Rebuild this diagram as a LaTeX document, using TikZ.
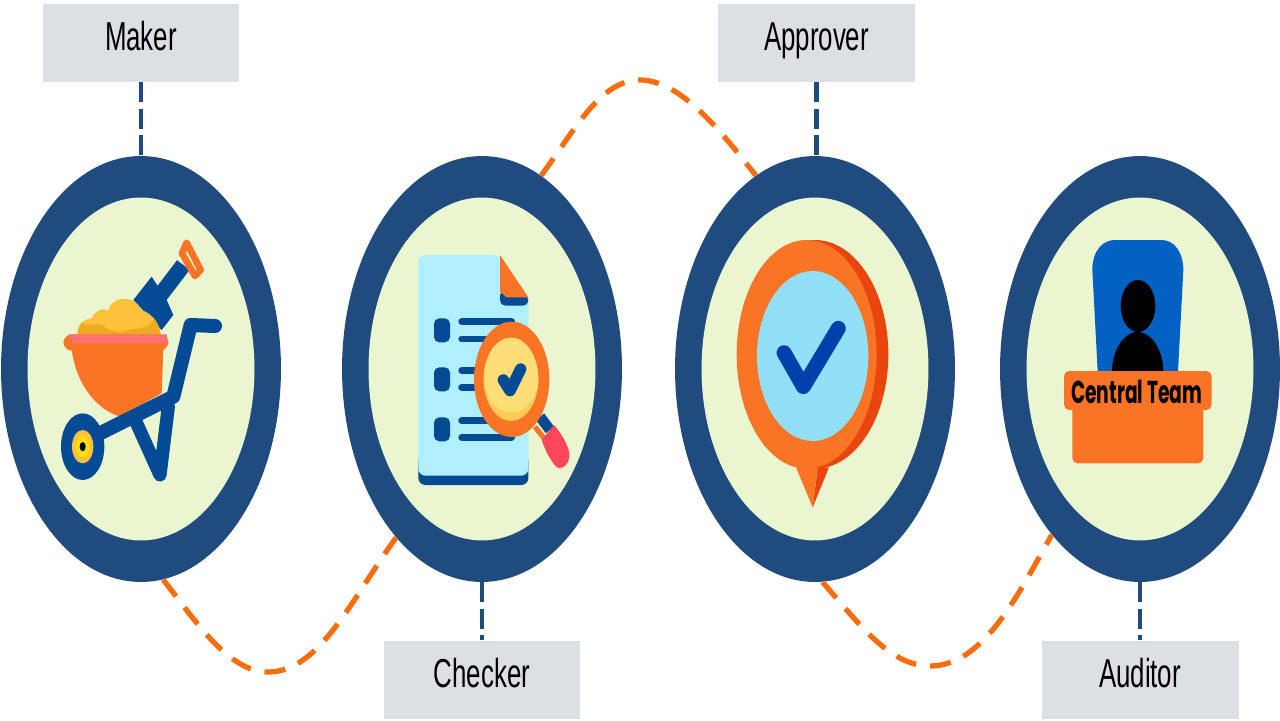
\documentclass[tikz,border=0pt]{standalone}
\usepackage{fontspec}
\setmainfont{Liberation Sans}
\newfontfamily\deskfont{Poppins}
\usetikzlibrary{shapes,positioning}

\definecolor{ringblue}{HTML}{1F4B7E}
\definecolor{discgreen}{HTML}{E9F6CF}
\definecolor{boxgrey}{HTML}{DCDFE3}
\definecolor{linkorange}{HTML}{FB6D0C}
\definecolor{iconorange}{HTML}{FA7426}
\definecolor{iconred}{HTML}{E8450F}
\definecolor{iconblue}{HTML}{044A94}
\definecolor{sand}{HTML}{FDC23C}
\definecolor{sanddark}{HTML}{EFAB1F}
\definecolor{rimpink}{HTML}{FF7272}
\definecolor{paper}{HTML}{AFEFFF}
\definecolor{lens}{HTML}{FFDE78}
\definecolor{lensdark}{HTML}{FBCB55}
\definecolor{gripred}{HTML}{FF4757}
\definecolor{pinblue}{HTML}{92E0F8}
\definecolor{tickblue}{HTML}{0040AA}
\definecolor{chairblue}{HTML}{0361C4}

\tikzset{
    ringnode/.style={shape=ellipse, fill=ringblue, inner sep=0pt, minimum width=5.6cm, minimum height=8.52cm},
    discnode/.style={shape=ellipse, fill=discgreen, inner sep=0pt, minimum width=4.54cm, minimum height=6.86cm},
    rolebox/.style={fill=boxgrey, inner sep=0pt, minimum width=3.94cm, minimum height=1.56cm, font=\fontsize{23}{23}\selectfont},
    roleline/.style={ringblue, line width=2.7pt, dash pattern=on 11.3pt off 3.8pt},
    linkline/.style={linkorange, line width=3pt, dash pattern=on 12pt off 8pt}
}
\newcommand{\rolename}[1]{\raisebox{-4.5pt}[0pt][0pt]{\scalebox{0.64}[1]{#1}}}

\begin{document}
\begin{tikzpicture}[x=0.02cm, y=-0.02cm]
    \useasboundingbox (0,0) rectangle (1280,720);

    % Rings
    \foreach \name/\x in {maker/141, checker/482, approver/815, auditor/1140} {
        \node[ringnode] (\name) at (\x,369) {};
        \node[discnode] (\name disc) at (\x,369) {};
    }

    % Role boxes
    \node[rolebox] (makerbox) at (141,43) {\rolename{Maker}};
    \node[rolebox] (checkerbox) at (482,679.5) {\rolename{Checker}};
    \node[rolebox] (approverbox) at (816.5,43) {\rolename{Approver}};
    \node[rolebox] (auditorbox) at (1140,679.5) {\rolename{Auditor}};

    % Box connections
    \draw[roleline] (makerbox.south) -- (maker.north);
    \draw[roleline] (approverbox.south) -- (approverbox.south |- approver.north);
    \draw[roleline] (checker.south) -- (checkerbox.north);
    \draw[roleline] (auditor.south) -- (auditorbox.north);

    % Links between rings
    \draw[linkline] (maker.-84.6) .. controls (195,620) and (228,672) .. (268,672)
        .. controls (320,672) and (352,598) .. (checker.-117.2);
    \draw[linkline] (checker.73) .. controls (575,130) and (600,80) .. (640,80)
        .. controls (680,80) and (720,130) .. (approver.107.5);
    \draw[linkline] (approver.-88) .. controls (860,625) and (890,666) .. (930,666)
        .. controls (985,666) and (1020,590) .. (auditor.-118);

    % Wheelbarrow
    \begin{scope}[shift={(30,220)}, scale=1/3]
        \fill[iconblue] (365,170) -- (388,205) -- (410,240) -- (430,285) -- (395,330) -- (310,240) -- cycle;
        \draw[iconblue, line width=9pt] (460,135) -- (380,240);
        \draw[iconorange, line width=3.8pt, line join=round] (470,68) -- (512,150) -- (495,168) -- (456,100) -- cycle;
        \fill[sand] (142,345) .. controls (145,310) and (165,295) .. (185,295)
            .. controls (195,270) and (225,262) .. (235,272)
            .. controls (240,235) and (305,215) .. (335,270)
            .. controls (365,280) and (390,310) .. (392,345) -- cycle;
        \fill[sanddark] (142,345) .. controls (143,330) and (146,318) .. (155,308)
            .. controls (180,325) and (195,305) .. (215,315)
            .. controls (240,330) and (265,345) .. (300,328)
            .. controls (340,325) and (360,320) .. (372,298)
            .. controls (385,312) and (391,328) .. (392,345) -- cycle;
        \fill[iconorange] (125,385) .. controls (135,480) and (190,565) .. (270,590) -- (395,520) -- (400,385) -- cycle;
        \fill[iconorange, rounded corners=5pt] (100,343) rectangle (415,392);
        \fill[rimpink] (115,343) -- (410,343) -- (415,370) -- (130,370) -- cycle;
        \draw[iconblue, line width=8pt, line cap=round, line join=round] (190,650) -- (430,530) -- (482,315) -- (555,318);
        \draw[iconblue, line width=7.5pt, line cap=round, line join=round] (320,610) -- (390,765) -- (415,560);
        \fill[iconblue] (158,680) ellipse [x radius=65, y radius=100];
        \fill[sand] (158,680) ellipse [x radius=32, y radius=50];
        \fill[yellow!85!orange] (158,680) ellipse [x radius=20, y radius=32];
        \fill[black] (158,680) ellipse [x radius=9, y radius=14];
    \end{scope}

    % Document with magnifier
    \begin{scope}[shift={(400,240)}, scale=1/3]
        \fill[iconblue, rounded corners=4pt] (55,640) rectangle (385,735);
        \fill[paper, rounded corners=4pt] (55,45) -- (300,45) -- (385,172) -- (385,707) -- (55,707) -- cycle;
        \fill[iconblue, rounded corners=3pt] (300,150) -- (300,197) -- (385,197) -- (385,165) -- cycle;
        \fill[iconorange] (300,45) -- (385,172) -- (320,172) -- (300,155) -- cycle;
        \foreach \y in {235,382,532} {
            \fill[iconblue, rounded corners=3pt] (102,\y) rectangle (150,\y+72);
        }
        \foreach \y/\xa/\xb in {245/185/335, 297/185/335, 392/185/260, 442/185/260, 542/185/335, 592/185/335} {
            \draw[iconblue, line width=3.8pt, line cap=round] (\xa,\y) -- (\xb,\y);
        }
        \draw[iconblue, line width=6pt] (420,530) -- (450,570);
        \draw[iconorange, line width=3pt] (405,560) -- (440,605);
        \fill[gripred] (425,600) -- (462,555) .. controls (480,575) and (505,615) .. (508,640)
            .. controls (510,670) and (490,690) .. (470,682) .. controls (450,660) and (435,630) .. (425,600) -- cycle;
        \fill[iconorange] (335,418) ellipse [x radius=113, y radius=173];
        \fill[lensdark] (333,418) ellipse [x radius=82, y radius=125];
        \begin{scope}
            \clip (333,418) ellipse [x radius=82, y radius=125];
            \fill[lens] (333,392) ellipse [x radius=88, y radius=125];
        \end{scope}
        \draw[iconblue, line width=6.5pt, line cap=round, line join=round] (310,420) -- (330,452) -- (362,387);
    \end{scope}

    % Pin with tick
    \begin{scope}[shift={(720,230)}, scale=1/3]
        \fill[iconred] (293,712) -- (278,832) -- (327,712) -- cycle;
        \fill[iconred] (285,373) ellipse [x radius=220, y radius=343];
        \fill[iconorange] (228,712) -- (278,832) -- (293,712) -- cycle;
        \fill[iconorange] (260,373) ellipse [x radius=210, y radius=343];
        \fill[pinblue] (278,378) ellipse [x radius=167, y radius=255];
        \draw[tickblue, line width=8.5pt, line cap=round, line join=round] (192,368) -- (250,470) -- (355,295);
    \end{scope}

    % Central team desk
    \begin{scope}[shift={(1050,230)}, scale=1/3]
        \fill[chairblue] (127,120) .. controls (127,60) and (160,30) .. (195,30) -- (335,30)
            .. controls (375,30) and (400,70) .. (400,120) -- (380,500) -- (147,500) -- cycle;
        \fill[black] (264,228) ellipse [x radius=52, y radius=78];
        \fill[black] (186,440) -- (186,425) .. controls (186,350) and (230,305) .. (263,305)
            .. controls (296,305) and (340,350) .. (340,425) -- (340,440) -- cycle;
        \fill[iconorange, rounded corners=3pt] (67,520) rectangle (460,700);
        \fill[iconorange, rounded corners=3pt] (42,423) rectangle (485,540);
        \node[font=\deskfont\bfseries\fontsize{18}{18}\selectfont, inner sep=0pt] (deskname) at (260,485) {\scalebox{0.59}[1]{Central Team}};
    \end{scope}
\end{tikzpicture}
\end{document}
